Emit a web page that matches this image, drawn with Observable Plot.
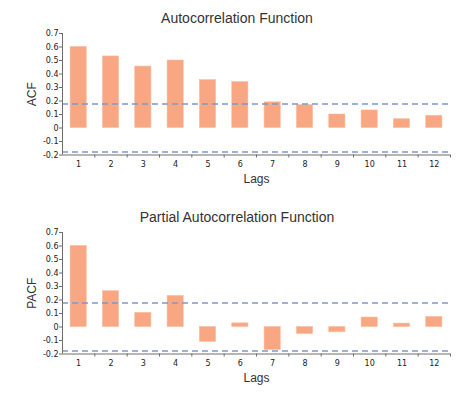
<!DOCTYPE html>
<html>
<head>
<meta charset="utf-8">
<script src="https://cdn.jsdelivr.net/npm/d3@7"></script>
<script src="https://cdn.jsdelivr.net/npm/@observablehq/plot@0.6"></script>
<style>
  html, body { margin: 0; padding: 0; background: #fff; }
  #wrap { width: 474px; }
  .panel { width: 474px; }
  .title { font-family: "Liberation Sans", Arial, sans-serif; font-size: 14px; line-height: 16px; text-align: center; color: #333; }
  svg { display: block; }
</style>
</head>
<body>
<div id="wrap"></div>
<script>
const lags = [1, 2, 3, 4, 5, 6, 7, 8, 9, 10, 11, 12];
const acf = [0.60, 0.53, 0.455, 0.50, 0.355, 0.34, 0.19, 0.17, 0.10, 0.13, 0.065, 0.09];
const pacf = [0.60, 0.265, 0.105, 0.23, -0.11, 0.027, -0.17, -0.052, -0.039, 0.07, 0.025, 0.074];
const confBound = 0.177;
const yTicks = [-0.2, -0.1, 0, 0.1, 0.2, 0.3, 0.4, 0.5, 0.6, 0.7];
const bandEdges = [1.5, 2.5, 3.5, 4.5, 5.5, 6.5, 7.5, 8.5, 9.5, 10.5, 11.5, 12.5];

const barColor = "#f9a682";
const dashColor = "#7f98cc";
const axisColor = "#6e6e6e";
const tickFont = "'DejaVu Sans', Verdana, sans-serif";
const labelFont = "'Liberation Sans', Arial, sans-serif";

function panel(titleText, yLabel, values, padTop) {
  const data = lags.map((lag, i) => ({lag, v: values[i]}));
  const div = document.createElement("div");
  div.className = "panel";
  const t = document.createElement("div");
  t.className = "title";
  t.style.paddingTop = padTop + "px";
  t.textContent = titleText;
  div.appendChild(t);
  const fmt = d => d === 0 ? "0" : d.toFixed(1);
  const chart = Plot.plot({
    width: 474,
    height: 172,
    marginLeft: 62,
    marginRight: 24,
    marginTop: 7,
    marginBottom: 43.5,
    style: {fontFamily: tickFont, fontSize: "8px", color: "#222", background: "#fff"},
    x: {type: "linear", domain: [0.5, 12.5]},
    y: {domain: [-0.2, 0.7]},
    marks: [
      Plot.rect(data, {x1: d => d.lag - 0.25, x2: d => d.lag + 0.25, y1: 0, y2: "v", fill: barColor, stroke: "#fbbd9f", strokeWidth: 0.6}),
      Plot.ruleY([confBound, -confBound], {stroke: dashColor, strokeWidth: 1.5, strokeDasharray: "6,4"}),
      Plot.ruleX([0.5], {y1: -0.2, y2: 0.7, stroke: axisColor}),
      Plot.ruleY([-0.2], {stroke: axisColor, strokeWidth: 1.2}),
      Plot.axisY({ticks: yTicks, tickFormat: fmt, tickSize: 3, tickPadding: 1, stroke: axisColor, label: null, fontFamily: tickFont}),
      Plot.axisX({ticks: lags, tickSize: 0, tickPadding: 6, tickFormat: d => String(d), label: null, fontFamily: tickFont}),
      Plot.axisX({ticks: bandEdges, tickSize: 3, tickFormat: () => "", stroke: axisColor, label: null}),
      Plot.text(["Lags"], {frameAnchor: "bottom", dy: 28, lineAnchor: "bottom", fontSize: 12, fontFamily: labelFont, fill: "#333"}),
      Plot.text([yLabel], {frameAnchor: "left", dx: -30, rotate: -90, textAnchor: "middle", fontSize: 12, fontFamily: labelFont, fill: "#333"})
    ]
  });
  div.appendChild(chart);
  return div;
}

const wrap = document.getElementById("wrap");
wrap.appendChild(panel("Autocorrelation Function", "ACF", acf, 10));
wrap.appendChild(panel("Partial Autocorrelation Function", "PACF", pacf, 11));
</script>
</body>
</html>
